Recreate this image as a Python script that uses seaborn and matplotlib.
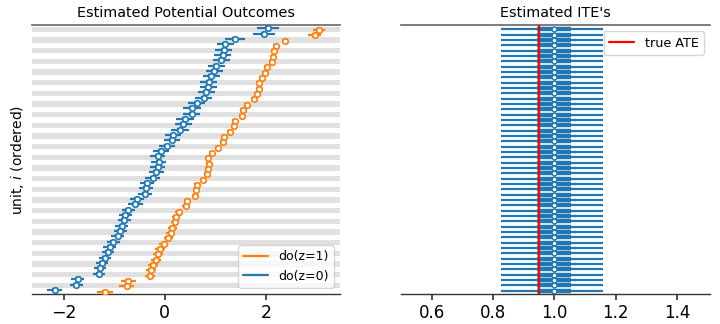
import numpy as np
import pandas as pd
import matplotlib
matplotlib.use("Agg")
import matplotlib.pyplot as plt
import seaborn as sns
from matplotlib.lines import Line2D

sns.set_theme(style="white")
plt.rcParams['font.family'] = ['DejaVu Sans']
plt.rcParams['text.color'] = 'black'
plt.rcParams['axes.labelcolor'] = 'black'
plt.rcParams['xtick.color'] = 'black'

# ---- data (rows listed from top to bottom) ----
units = list(range(50))

mean_z0 = [2.05, 1.97, 1.39, 1.20, 1.17, 1.15, 1.12, 1.02, 0.98, 0.92,
           0.87, 0.86, 0.82, 0.77, 0.63, 0.54, 0.53, 0.40, 0.37, 0.30,
           0.17, 0.15, 0.05, -0.07, -0.14, -0.12, -0.14, -0.17, -0.24, -0.36,
           -0.38, -0.40, -0.55, -0.58, -0.72, -0.78, -0.80, -0.85, -0.88, -0.93,
           -1.02, -1.09, -1.13, -1.18, -1.24, -1.28, -1.30, -1.72, -1.75, -2.18]

mean_z1 = [3.05, 2.97, 2.39, 2.20, 2.17, 2.15, 2.12, 2.02, 1.98, 1.92,
           1.87, 1.86, 1.82, 1.77, 1.63, 1.54, 1.53, 1.40, 1.37, 1.30,
           1.17, 1.15, 1.05, 0.93, 0.86, 0.88, 0.86, 0.83, 0.76, 0.64,
           0.62, 0.60, 0.45, 0.42, 0.28, 0.22, 0.20, 0.15, 0.12, 0.07,
           -0.02, -0.09, -0.13, -0.18, -0.24, -0.28, -0.30, -0.72, -0.75, -1.18]

hdi_z0 = [0.22, 0.22, 0.20, 0.17, 0.17, 0.17, 0.17, 0.17, 0.17, 0.17,
          0.17, 0.17, 0.17, 0.17, 0.17, 0.17, 0.17, 0.17, 0.17, 0.17,
          0.16, 0.16, 0.16, 0.16, 0.15, 0.15, 0.15, 0.15, 0.15, 0.14,
          0.14, 0.14, 0.14, 0.14, 0.13, 0.13, 0.13, 0.13, 0.13, 0.13,
          0.13, 0.13, 0.12, 0.12, 0.12, 0.12, 0.12, 0.13, 0.13, 0.15]

hdi_z1 = [0.12, 0.13, 0.07, 0.06, 0.06, 0.06, 0.06, 0.06, 0.06, 0.06,
          0.06, 0.06, 0.06, 0.06, 0.06, 0.06, 0.06, 0.06, 0.06, 0.06,
          0.06, 0.06, 0.06, 0.06, 0.06, 0.06, 0.06, 0.06, 0.07, 0.07,
          0.07, 0.07, 0.07, 0.07, 0.08, 0.08, 0.08, 0.09, 0.09, 0.09,
          0.09, 0.10, 0.10, 0.10, 0.10, 0.10, 0.10, 0.15, 0.15, 0.16]

iqr_half = 0.06

ite_mean = [1.0] * 50
ite_hdi_low = [0.826] * 50
ite_hdi_high = [1.158] * 50
ite_iqr_low = [0.944] * 50
ite_iqr_high = [1.055] * 50
true_ate = 0.95

C0 = "#1f77b4"
C1 = "#ff7f0e"

n = len(units)
pos = np.array([n - 1 - u for u in units], dtype=float)

fig = plt.figure(figsize=(7.2, 3.24), dpi=100)
axL = fig.add_axes([0.0444, 0.0926, 0.4278, 0.830])
axR = fig.add_axes([0.557, 0.0926, 0.429, 0.830])

ylim = (-0.62, n - 1 + 0.79)

# ---- left panel ----
for u, p in zip(units, pos):
    if u % 2 == 0:
        axL.axhspan(p - 0.5, p + 0.5, color="#e0e0e0", lw=0, zorder=0)

off = 0.16
m0 = np.array(mean_z0); m1 = np.array(mean_z1)
h0 = np.array(hdi_z0); h1 = np.array(hdi_z1)
axL.hlines(pos + off, m0 - h0, m0 + h0, color=C0, lw=1.6, zorder=2)
axL.hlines(pos + off, m0 - iqr_half, m0 + iqr_half, color=C0, lw=3.2, zorder=2)
axL.hlines(pos - off, m1 - h1, m1 + h1, color=C1, lw=1.6, zorder=2)
axL.hlines(pos - off, m1 - iqr_half, m1 + iqr_half, color=C1, lw=3.2, zorder=2)

df0 = pd.DataFrame({"value": m0, "y": pos + off})
df1 = pd.DataFrame({"value": m1, "y": pos - off})
sns.scatterplot(data=df1, x="value", y="y", ax=axL, color="white",
                edgecolor=C1, linewidth=1.2, s=16, zorder=3, legend=False)
sns.scatterplot(data=df0, x="value", y="y", ax=axL, color="white",
                edgecolor=C0, linewidth=1.2, s=16, zorder=3, legend=False)

axL.set_xlim(-2.63, 3.47)
axL.set_ylim(*ylim)
axL.set_xticks([-2, 0, 2])
axL.set_yticks([])
axL.set_xlabel("")
axL.set_ylabel("unit, $i$ (ordered)", fontsize=10)
axL.set_title("Estimated Potential Outcomes", fontsize=10.4)
axL.tick_params(axis="x", bottom=True, length=4, labelsize=12.5, color="0.2")
handlesL = [Line2D([0], [0], color=C1, lw=1.6, label="do(z=1)"),
            Line2D([0], [0], color=C0, lw=1.6, label="do(z=0)")]
axL.legend(handles=handlesL, loc="lower right", fontsize=9, framealpha=0.8)

# ---- right panel ----
im = np.array(ite_mean)
axR.hlines(pos, ite_hdi_low, ite_hdi_high, color=C0, lw=1.6, zorder=2)
axR.hlines(pos, ite_iqr_low, ite_iqr_high, color=C0, lw=3.2, zorder=2)
axR.axvline(true_ate, color="red", lw=1.6, zorder=4, label="true ATE")
dfI = pd.DataFrame({"value": im, "y": pos})
sns.scatterplot(data=dfI, x="value", y="y", ax=axR, color="white",
                edgecolor=C0, linewidth=1.0, s=12, zorder=3, legend=False)
axR.set_xlim(0.5, 1.508)
axR.set_ylim(*ylim)
axR.set_xticks([0.6, 0.8, 1.0, 1.2, 1.4])
axR.set_yticks([])
axR.set_xlabel("")
axR.set_ylabel("")
axR.set_title("Estimated ITE's", fontsize=10.4)
axR.tick_params(axis="x", bottom=True, length=4, labelsize=12, color="0.2")
axR.legend(handles=[Line2D([0], [0], color="red", lw=1.6, label="true ATE")],
           loc="upper right", fontsize=9.2)

for ax in (axL, axR):
    ax.spines["left"].set_visible(False)
    ax.spines["right"].set_visible(False)
    ax.spines["top"].set_color("0.4")
    ax.spines["top"].set_linewidth(1.2)
    ax.spines["bottom"].set_color("0.2")
    ax.spines["bottom"].set_linewidth(1.0)

fig.savefig("out.png", dpi=100)
